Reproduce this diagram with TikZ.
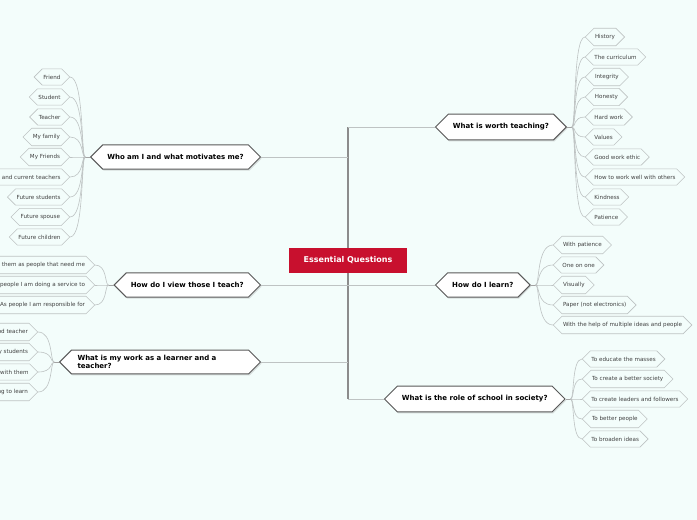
\documentclass[tikz,border=0pt]{standalone}
\usepackage{fontspec}
\setmainfont{DejaVu Sans}
\usetikzlibrary{shapes.misc,calc,shadows}
\definecolor{bg}{RGB}{243,253,251}
\definecolor{eqred}{RGB}{200,16,46}
\definecolor{subline}{RGB}{190,195,195}
\definecolor{trunk}{RGB}{140,140,140}
\tikzset{
  sub/.style={chamfered rectangle, chamfered rectangle xsep=5pt, chamfered rectangle ysep=6pt,
    minimum height=12pt, inner xsep=7pt, inner ysep=0pt, draw=subline, fill=bg, line width=0.6pt,
    font=\fontsize{5.6pt}{6pt}\selectfont, text=black!75},
  mainq/.style={chamfered rectangle, chamfered rectangle xsep=7pt, chamfered rectangle ysep=9.5pt,
    minimum height=19pt, inner xsep=14pt, inner ysep=0pt, draw=black!65, fill=white, line width=1pt,
    font=\bfseries\fontsize{7pt}{8.5pt}\selectfont, drop shadow={opacity=0.25,shadow xshift=1pt,shadow yshift=-1.5pt}},
  branch/.style={draw=subline, line width=1pt},
  subc/.style={draw=subline, line width=0.6pt},
}
\newcommand{\rfan}[2]{\coordinate (#1j) at ($(#1.east)+(5,0)$);
  \draw[draw=trunk!80,line width=1pt] (#1.east) -- (#1j);
  \foreach \c in {#2} {\draw[subc] (#1j) .. controls ($(#1j)+(4,0)$) and ($(#1j |- \c.west)+(1,0)$) .. (\c.west);}}
\newcommand{\lfan}[2]{\coordinate (#1j) at ($(#1.west)+(-5,0)$);
  \draw[draw=trunk!80,line width=1pt] (#1.west) -- (#1j);
  \foreach \c in {#2} {\draw[subc] (#1j) .. controls ($(#1j)+(-4,0)$) and ($(#1j |- \c.east)+(-1,0)$) .. (\c.east);}}
\begin{document}
\begin{tikzpicture}[x=1pt,y=-1pt]
\fill[bg] (0,0) rectangle (697,520);
\useasboundingbox (0,0) rectangle (697,520);
\clip (0,0) rectangle (697,520);
% trunk
\coordinate (tt) at (348,127);
\coordinate (tb) at (348,399);
\coordinate (tw) at (348,157);
\coordinate (tv) at (348,285);
\coordinate (tk) at (348,362);
\coordinate (tl) at (348,285);
\draw[trunk, line width=2pt] (tt) -- (tb);
\node[fill=eqred, text=white, font=\bfseries\fontsize{8pt}{9pt}\selectfont, minimum width=118pt, minimum height=25pt] (c) at (348,260) {Essential Questions};
% main nodes
\node[mainq, anchor=west] (wt) at (435,127) {What is worth teaching?};
\node[mainq, anchor=west] (hl) at (435,285) {How do I learn?};
\node[mainq, anchor=west] (rs) at (384,399) {What is the role of school in society?};
\node[mainq, anchor=east] (wm) at (261,157) {Who am I and what motivates me?};
\node[mainq, anchor=east] (vt) at (261,285) {How do I view those I teach?};
\node[mainq, anchor=east, minimum height=0pt, chamfered rectangle ysep=8pt, chamfered rectangle xsep=6pt, inner ysep=-3pt, text width=165pt, align=left] (lw) at (261,362) {What is my work as a learner and a teacher?};
\draw[branch] (tt) -- (wt.west);
\draw[branch] (tl) -- (hl.west);
\draw[branch] (tb) -- (rs.west);
\draw[branch] (wm.east) -- (tw);
\draw[branch] (vt.east) -- (tv);
\draw[branch] (lw.east) -- (tk);
% worth teaching
\foreach \t [count=\i] in {History,The curriculum,Integrity,Honesty,Hard work,Values,Good work ethic,How to work well with others,Kindness,Patience}
  \node[sub, anchor=west] (w\i) at (585,{17+20*\i}) {\t};
\rfan{wt}{w1,w2,w3,w4,w5,w6,w7,w8,w9,w10}
% how do I learn
\foreach \t [count=\i] in {With patience,One on one,Visually,Paper (not electronics),With the help of multiple ideas and people}
  \node[sub, anchor=west] (h\i) at (553,{225+20*\i}) {\t};
\rfan{hl}{h1,h2,h3,h4,h5}
% role of school
\foreach \t [count=\i] in {To educate the masses,To create a better society,To create leaders and followers,To better people,To broaden ideas}
  \node[sub, anchor=west] (r\i) at (582,{339+20*\i}) {\t};
\rfan{rs}{r1,r2,r3,r4,r5}
% who am I
\foreach \t [count=\i] in {Friend,Student,Teacher,My family,My Friends,Past and current teachers,Future students,Future spouse,Future children}
  \node[sub, anchor=east] (m\i) at (70,{57+20*\i}) {\t};
\lfan{wm}{m1,m2,m3,m4,m5,m6,m7,m8,m9}
% view those I teach
\foreach \t [count=\i] in {I see them as people that need me,As people I am doing a service to,As people I am responsible for}
  \node[sub, anchor=east] (v\i) at (95,{245+20*\i}) {\t};
\lfan{vt}{v1,v2,v3}
% work
\foreach \t [count=\i] in {To be a good teacher,To teach my students,To learn with them,To never stop trying to learn}
  \node[sub, anchor=east] (k\i) at (38,{312+20*\i}) {\t};
\lfan{lw}{k1,k2,k3,k4}
\end{tikzpicture}
\end{document}
